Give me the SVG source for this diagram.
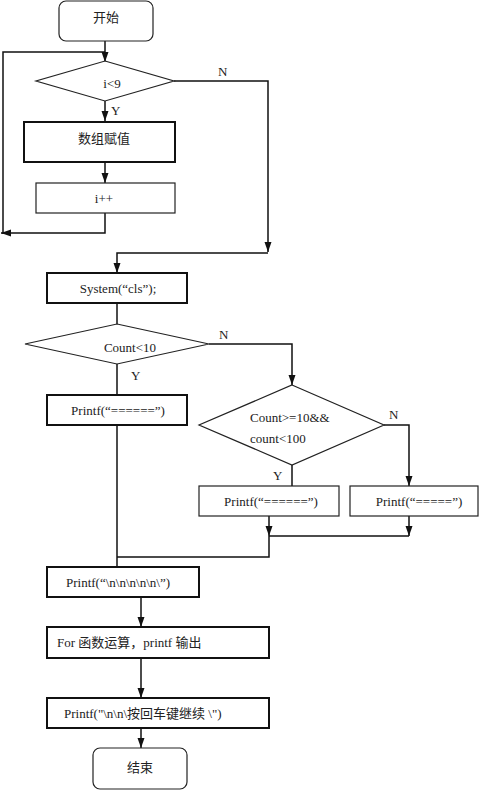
<svg xmlns="http://www.w3.org/2000/svg" width="479" height="791" viewBox="0 0 479 791">
<style>
.thin{fill:#fff;stroke:#222;stroke-width:1.2}
.thick{fill:#fff;stroke:#111;stroke-width:2}
.t{font-family:"Liberation Serif","Noto Sans CJK SC",serif;font-size:13px;fill:#222}
.c{text-anchor:middle}
.ln{fill:none;stroke:#111;stroke-width:1.5}
</style>
<defs>
<marker id="ah" markerUnits="userSpaceOnUse" markerWidth="10" markerHeight="10" viewBox="0 0 10 10" refX="10" refY="5" orient="auto">
<path d="M0,1.5 L10,5 L0,8.5 Z" fill="#111"/>
</marker>
</defs>
<g id="connectors">
<path class="ln" d="M105,41 V62" marker-end="url(#ah)"/>
<path class="ln" d="M105,101 V121" marker-end="url(#ah)"/>
<path class="ln" d="M105,162 V183" marker-end="url(#ah)"/>
<path class="ln" d="M105,213 V233 H1" marker-end="url(#ah)"/>
<path class="ln" d="M3,234 V52 H105"/>
<path class="ln" d="M174,81 H268 V252" marker-end="url(#ah)"/>
<path class="ln" d="M268,253 H117 V273" marker-end="url(#ah)"/>
<path class="ln" d="M117,303 V324"/>
<path class="ln" d="M117,364 V395"/>
<path class="ln" d="M209,344 H292 V385" marker-end="url(#ah)"/>
<path class="ln" d="M384,425 H409 V486" marker-end="url(#ah)"/>
<path class="ln" d="M292,465 V486"/>
<path class="ln" d="M269,516 V536" marker-end="url(#ah)"/>
<path class="ln" d="M409,516 V536" marker-end="url(#ah)"/>
<path class="ln" d="M269,536 H409"/>
<path class="ln" d="M269,536 V557 H117"/>
<path class="ln" d="M117,425 V567"/>
<path class="ln" d="M141,597 V627" marker-end="url(#ah)"/>
<path class="ln" d="M141,658 V698" marker-end="url(#ah)"/>
<path class="ln" d="M141,728 V748" marker-end="url(#ah)"/>
<text class="t" x="218" y="76">N</text>
<text class="t" x="111" y="115">Y</text>
<text class="t" x="219" y="339">N</text>
<text class="t" x="131" y="380">Y</text>
<text class="t" x="389" y="419">N</text>
<text class="t" x="273" y="480">Y</text>
</g>
<g id="start">
<rect class="thin" x="59" y="1" width="94" height="40" rx="7"/>
<text class="t c" x="106" y="22">开始</text>
</g>
<g id="cond1">
<polygon class="thin" points="105,61 174,81 105,101 36,81"/>
<text class="t c" x="112" y="88">i&lt;9</text>
</g>
<g id="assign">
<rect class="thick" x="24" y="122" width="151" height="40"/>
<text class="t c" x="104" y="143">数组赋值</text>
</g>
<g id="inc">
<rect class="thin" x="36" y="183" width="139" height="30"/>
<text class="t c" x="104" y="203">i++</text>
</g>
<g id="cls">
<rect class="thick" x="47" y="273" width="140" height="30"/>
<text class="t c" x="118" y="293">System(“cls”);</text>
</g>
<g id="cond2">
<polygon class="thin" points="117,324 209,344 117,364 25,344"/>
<text class="t c" x="130" y="352">Count&lt;10</text>
</g>
<g id="p1">
<rect class="thick" x="47" y="395" width="140" height="30"/>
<text class="t c" x="118" y="415">Printf(“======”)</text>
</g>
<g id="cond3">
<polygon class="thin" points="292,385 384,425 292,465 199,425"/>
<text class="t" x="250" y="422">Count&gt;=10&amp;&amp;</text>
<text class="t" x="250" y="443">count&lt;100</text>
</g>
<g id="p2">
<rect class="thin" x="199" y="486" width="140" height="30"/>
<text class="t c" x="271" y="506">Printf(“======”)</text>
</g>
<g id="p3">
<rect class="thin" x="350" y="486" width="128" height="30"/>
<text class="t c" x="419" y="506">Printf(“=====”)</text>
</g>
<g id="p4">
<rect class="thick" x="47" y="567" width="152" height="30"/>
<text class="t c" x="118" y="587">Printf(“\n\n\n\n\n\”)</text>
</g>
<g id="forbox">
<rect class="thick" x="47" y="627" width="222" height="31"/>
<text class="t" x="57" y="647">For 函数运算，printf 输出</text>
</g>
<g id="p5">
<rect class="thick" x="47" y="698" width="222" height="30"/>
<text class="t" x="64" y="718">Printf("\n\n\按回车键继续 \")</text>
</g>
<g id="end">
<rect class="thin" x="93" y="748" width="94" height="41" rx="7"/>
<text class="t c" x="140" y="772">结束</text>
</g>
</svg>
